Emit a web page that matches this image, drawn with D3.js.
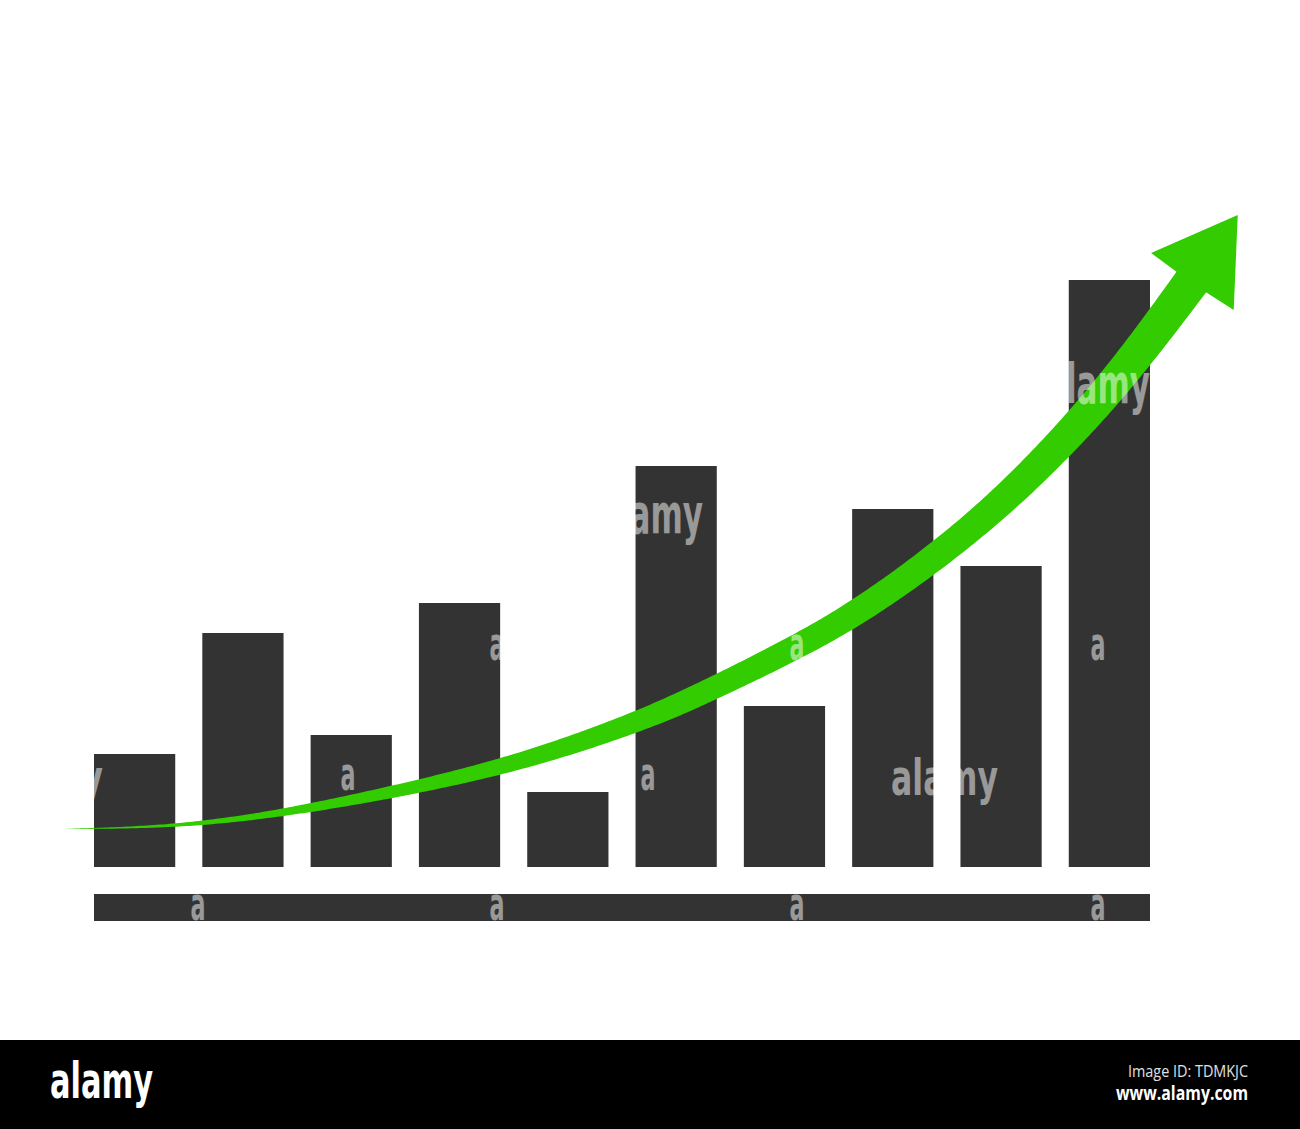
<!DOCTYPE html>
<html>
<head>
<meta charset="utf-8">
<script src="https://cdn.jsdelivr.net/npm/d3@7/dist/d3.min.js"></script>
<style>
  html, body { margin: 0; padding: 0; background: #ffffff; }
  svg { display: block; }
</style>
</head>
<body>
<svg id="chart" width="1300" height="1129"></svg>
<script>
// ---------- data ----------
const categories = ["1", "2", "3", "4", "5", "6", "7", "8", "9", "10"];
const values = [113, 234, 132, 264, 75, 401, 161, 358, 301, 587];

// arrow centreline in data space: [bar-index position, value]
const arrowX = [-0.67, 0.37, 1.34, 2.45, 3.56, 4.63, 5.22, 6.14, 6.70, 7.37, 8.13, 9.02, 9.75];
const arrowY = [38, 40, 53, 76, 104, 144, 172, 221, 256, 307, 375, 477, 584];
// arrow width profile along the curve (fraction of length -> thickness)
const arrowWidthAt = [0, 0.08, 0.16, 0.25, 0.34, 0.48, 0.61, 0.75, 0.87, 1];
const arrowWidth = [0, 3, 7, 12, 16, 22, 25, 28, 32, 36];
// arrow head in data space: notchL, barbL, tip, barbR, notchR
const headX = [9.635, 9.385, 10.185, 10.148, 9.903];
const headY = [594, 614, 652, 557, 574];

// watermark texts
const watermarkWords = ["alamy", "alamy", "alamy", "y"];
const watermarkLetters = ["a", "a", "a", "a", "a", "a", "a", "a", "a"];

// ---------- layout ----------
const svg = d3.select("#chart");
const W = 1300, H = 1129;
const barColor = "#333333";
const green = "#33cc00";

const x = d3.scaleBand().domain(categories).range([94, 1150]).paddingInner(0.25).paddingOuter(0);
const y = d3.scaleLinear().domain([0, 587]).range([867, 280]);
const xPos = d3.scaleLinear()
  .domain([0, categories.length - 1])
  .range([x(categories[0]) + x.bandwidth() / 2, x(categories[categories.length - 1]) + x.bandwidth() / 2]);

svg.append("rect").attr("width", W).attr("height", H).attr("fill", "#ffffff");

// bars
svg.append("g").selectAll("rect")
  .data(values)
  .join("rect")
  .attr("x", (d, i) => x(categories[i]))
  .attr("y", d => y(d))
  .attr("width", x.bandwidth())
  .attr("height", d => y(0) - y(d))
  .attr("fill", barColor);

// base bar (axis)
const [r0, r1] = x.range();
svg.append("rect")
  .attr("x", r0).attr("y", 894)
  .attr("width", r1 - r0).attr("height", 27)
  .attr("fill", barColor);

// ---------- arrow ----------
const centre = arrowX.map((v, i) => [xPos(v), y(arrowY[i])]);
const centreLine = d3.line().curve(d3.curveBasis);
const tmp = svg.append("path").attr("d", centreLine(centre)).attr("fill", "none").attr("stroke", "none");
const node = tmp.node();
const L = node.getTotalLength();
const N = 400;
const pts = d3.range(N + 1).map(k => {
  const p = node.getPointAtLength(L * k / N);
  return [p.x, p.y, k / N];
});
tmp.remove();
// extend the shaft a little into the head so no seam shows
{
  const a = pts[N - 2], b = pts[N];
  const dx = b[0] - a[0], dy = b[1] - a[1], len = Math.hypot(dx, dy);
  pts.push([b[0] + dx / len * 8, b[1] + dy / len * 8, 1]);
}
const wScale = d3.scaleLinear().domain(arrowWidthAt).range(arrowWidth).clamp(true);
const left = [], right = [];
const M = pts.length - 1;
pts.forEach((p, k) => {
  const a = pts[Math.max(0, k - 2)], b = pts[Math.min(M, k + 2)];
  let dx = b[0] - a[0], dy = b[1] - a[1];
  const len = Math.hypot(dx, dy) || 1;
  dx /= len; dy /= len;
  const nx = -dy, ny = dx;
  const hw = wScale(p[2]) / 2;
  left.push([p[0] + nx * hw, p[1] + ny * hw]);
  right.push([p[0] - nx * hw, p[1] - ny * hw]);
});
const shaft = left.concat(right.reverse());
svg.append("path")
  .attr("d", d3.line()(shaft) + "Z")
  .attr("fill", green);

const head = headX.map((v, i) => [xPos(v), y(headY[i])]);
svg.append("path")
  .attr("d", d3.line()(head) + "Z")
  .attr("fill", green);

// ---------- watermark ----------
const wmFont = "'Liberation Sans Narrow', 'DejaVu Sans Condensed', 'Liberation Sans', sans-serif";
const wordPlaces = [
  { x: 1045, y: 403, s: 55, l: 105 },
  { x: 598, y: 533, s: 55, l: 105 },
  { x: 891, y: 795, s: 50, l: 107 },
  { x: 81, y: 795, s: 50, l: 22 }
];
const wm = svg.append("g").attr("fill", "#ffffff").attr("fill-opacity", 0.5)
  .attr("font-family", wmFont).attr("font-weight", "bold");
wm.selectAll("text.word")
  .data(watermarkWords)
  .join("text")
  .attr("class", "word")
  .attr("x", (d, i) => wordPlaces[i].x)
  .attr("y", (d, i) => wordPlaces[i].y)
  .attr("font-size", (d, i) => wordPlaces[i].s)
  .attr("textLength", (d, i) => wordPlaces[i].l)
  .attr("lengthAdjust", "spacingAndGlyphs")
  .text(d => d);
const letterPlaces = [
  [198, 920], [497, 920], [797, 920], [1098, 920],
  [348, 790], [648, 790],
  [497, 660], [797, 660], [1098, 660]
];
wm.selectAll("text.letter")
  .data(watermarkLetters)
  .join("text")
  .attr("class", "letter")
  .attr("x", (d, i) => letterPlaces[i][0] - 7.5)
  .attr("y", (d, i) => letterPlaces[i][1])
  .attr("font-size", 46)
  .attr("textLength", 15)
  .attr("lengthAdjust", "spacingAndGlyphs")
  .text(d => d);

// ---------- footer ----------
svg.append("rect").attr("x", 0).attr("y", 1040).attr("width", W).attr("height", H - 1040).attr("fill", "#000000");
svg.append("text")
  .attr("x", 50).attr("y", 1098)
  .attr("font-family", wmFont).attr("font-weight", "bold")
  .attr("font-size", 50)
  .attr("textLength", 103).attr("lengthAdjust", "spacingAndGlyphs")
  .attr("fill", "#ffffff")
  .text("alamy");
svg.append("text")
  .attr("x", 1248).attr("y", 1077)
  .attr("text-anchor", "end")
  .attr("font-family", "'Open Sans', 'DejaVu Sans', sans-serif")
  .attr("font-size", 16)
  .attr("textLength", 120).attr("lengthAdjust", "spacingAndGlyphs")
  .attr("fill", "#e0e0e0")
  .text("Image ID: TDMKJC");
svg.append("text")
  .attr("x", 1248).attr("y", 1100)
  .attr("text-anchor", "end")
  .attr("font-family", "'Open Sans', 'DejaVu Sans', sans-serif")
  .attr("font-weight", "bold")
  .attr("font-size", 19)
  .attr("textLength", 132).attr("lengthAdjust", "spacingAndGlyphs")
  .attr("fill", "#ffffff")
  .text("www.alamy.com");
</script>
</body>
</html>
